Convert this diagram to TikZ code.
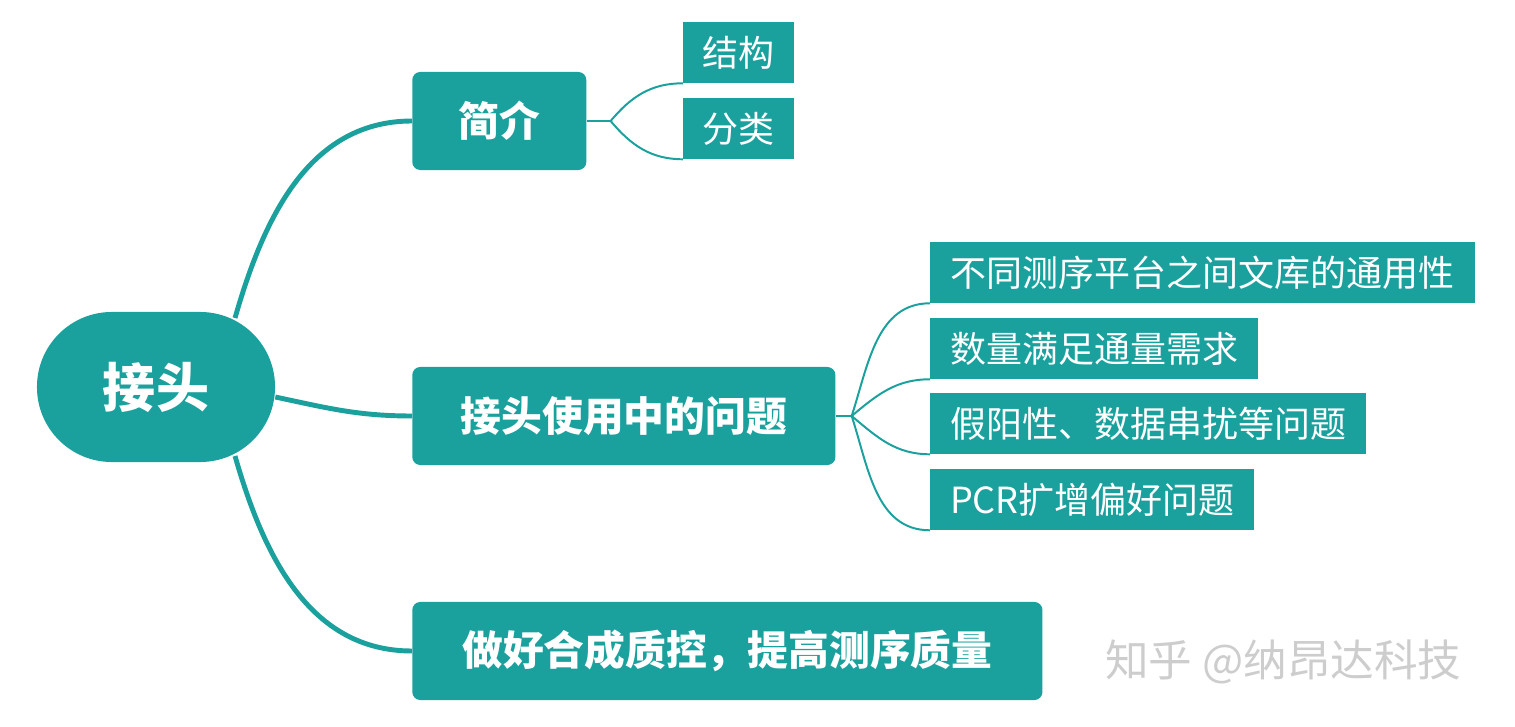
\documentclass[tikz,border=0pt]{standalone}
\usepackage{fontspec}
\newfontfamily\cjk{Noto Sans CJK SC}
\definecolor{mindteal}{RGB}{26,161,157}
\definecolor{markgray}{RGB}{205,205,205}
\begin{document}
\begin{tikzpicture}[
                            x=0.025cm, y=-0.025cm,
                            topic/.style={rectangle, fill=mindteal, text=white, inner sep=0pt, anchor=west,
                                          rounded corners=0.2cm, minimum height=2.45cm,
                                          font=\cjk\bfseries\fontsize{29pt}{34pt}\selectfont},
                            subtopic/.style={rectangle, fill=mindteal, text=white, inner sep=0pt, anchor=west,
                                          minimum height=1.525cm,
                                          font=\cjk\fontsize{25.6pt}{30pt}\selectfont},
                            trunk/.style={draw=mindteal, line width=3.5pt},
                            twig/.style={draw=mindteal, line width=1.4pt}
                        ]
                        \useasboundingbox (0,0) rectangle (1515,727);
                        % Blocks
                        \node [rectangle, fill=mindteal, text=white, rounded corners=1.87cm,
                               minimum width=5.95cm, minimum height=3.75cm,
                               font=\cjk\bfseries\fontsize{37.7pt}{42pt}\selectfont] (root) at (156,387) {接头};
                        \node [topic, minimum width=4.35cm] (intro) at (412,121) {简介};
                        \node [topic, minimum width=10.575cm] (issues) at (412,416) {接头使用中的问题};
                        \node [topic, minimum width=15.75cm] (qc) at (412,651) {做好合成质控，提高测序质量};
                        \node [subtopic, minimum width=2.775cm] (struct) at (683,52.5) {结构};
                        \node [subtopic, minimum width=2.775cm] (classify) at (683,128.5) {分类};
                        \node [subtopic, minimum width=13.625cm] (compat) at (930,272.5) {不同测序平台之间文库的通用性};
                        \node [subtopic, minimum width=8.2cm] (amount) at (930,348.5) {数量满足通量需求};
                        \node [subtopic, minimum width=10.9cm] (falsepos) at (930,423.5) {假阳性、数据串扰等问题};
                        \node [subtopic, minimum width=8.1cm] (pcrbias) at (930,499.5) {PCR扩增偏好问题};
                        \node [anchor=west, inner sep=0pt, text=markgray, font=\cjk\fontsize{31pt}{34pt}\selectfont] (mark) at (1105,662) {知乎 @纳昂达科技};

                        % Connections
                        \coordinate (introfork) at ([xshift=0.6cm]intro.east);
                        \coordinate (issuesfork) at ([xshift=0.4cm]issues.east);
                        \draw [trunk] ([shift={(1.975cm,1.725cm)}]root.center) to[out=74,in=180] (intro.west);
                        \draw [trunk] ([yshift=-0.25cm]root.east) to[out=-12,in=180] (issues.west);
                        \draw [trunk] ([shift={(1.975cm,-1.725cm)}]root.center) to[out=-74,in=180] (qc.west);
                        \draw [twig] (intro.east) -- (introfork);
                        \draw [twig] (introfork) to[out=50,in=180] (struct.south west);
                        \draw [twig] (introfork) to[out=-50,in=180] (classify.south west);
                        \draw [twig] (issues.east) -- (issuesfork);
                        \draw [twig] (issuesfork) to[out=72,in=180] (compat.south west);
                        \draw [twig] (issuesfork) to[out=40,in=180] (amount.south west);
                        \draw [twig] (issuesfork) to[out=-40,in=180] (falsepos.south west);
                        \draw [twig] (issuesfork) to[out=-72,in=180] (pcrbias.south west);
                    \end{tikzpicture}
\end{document}
